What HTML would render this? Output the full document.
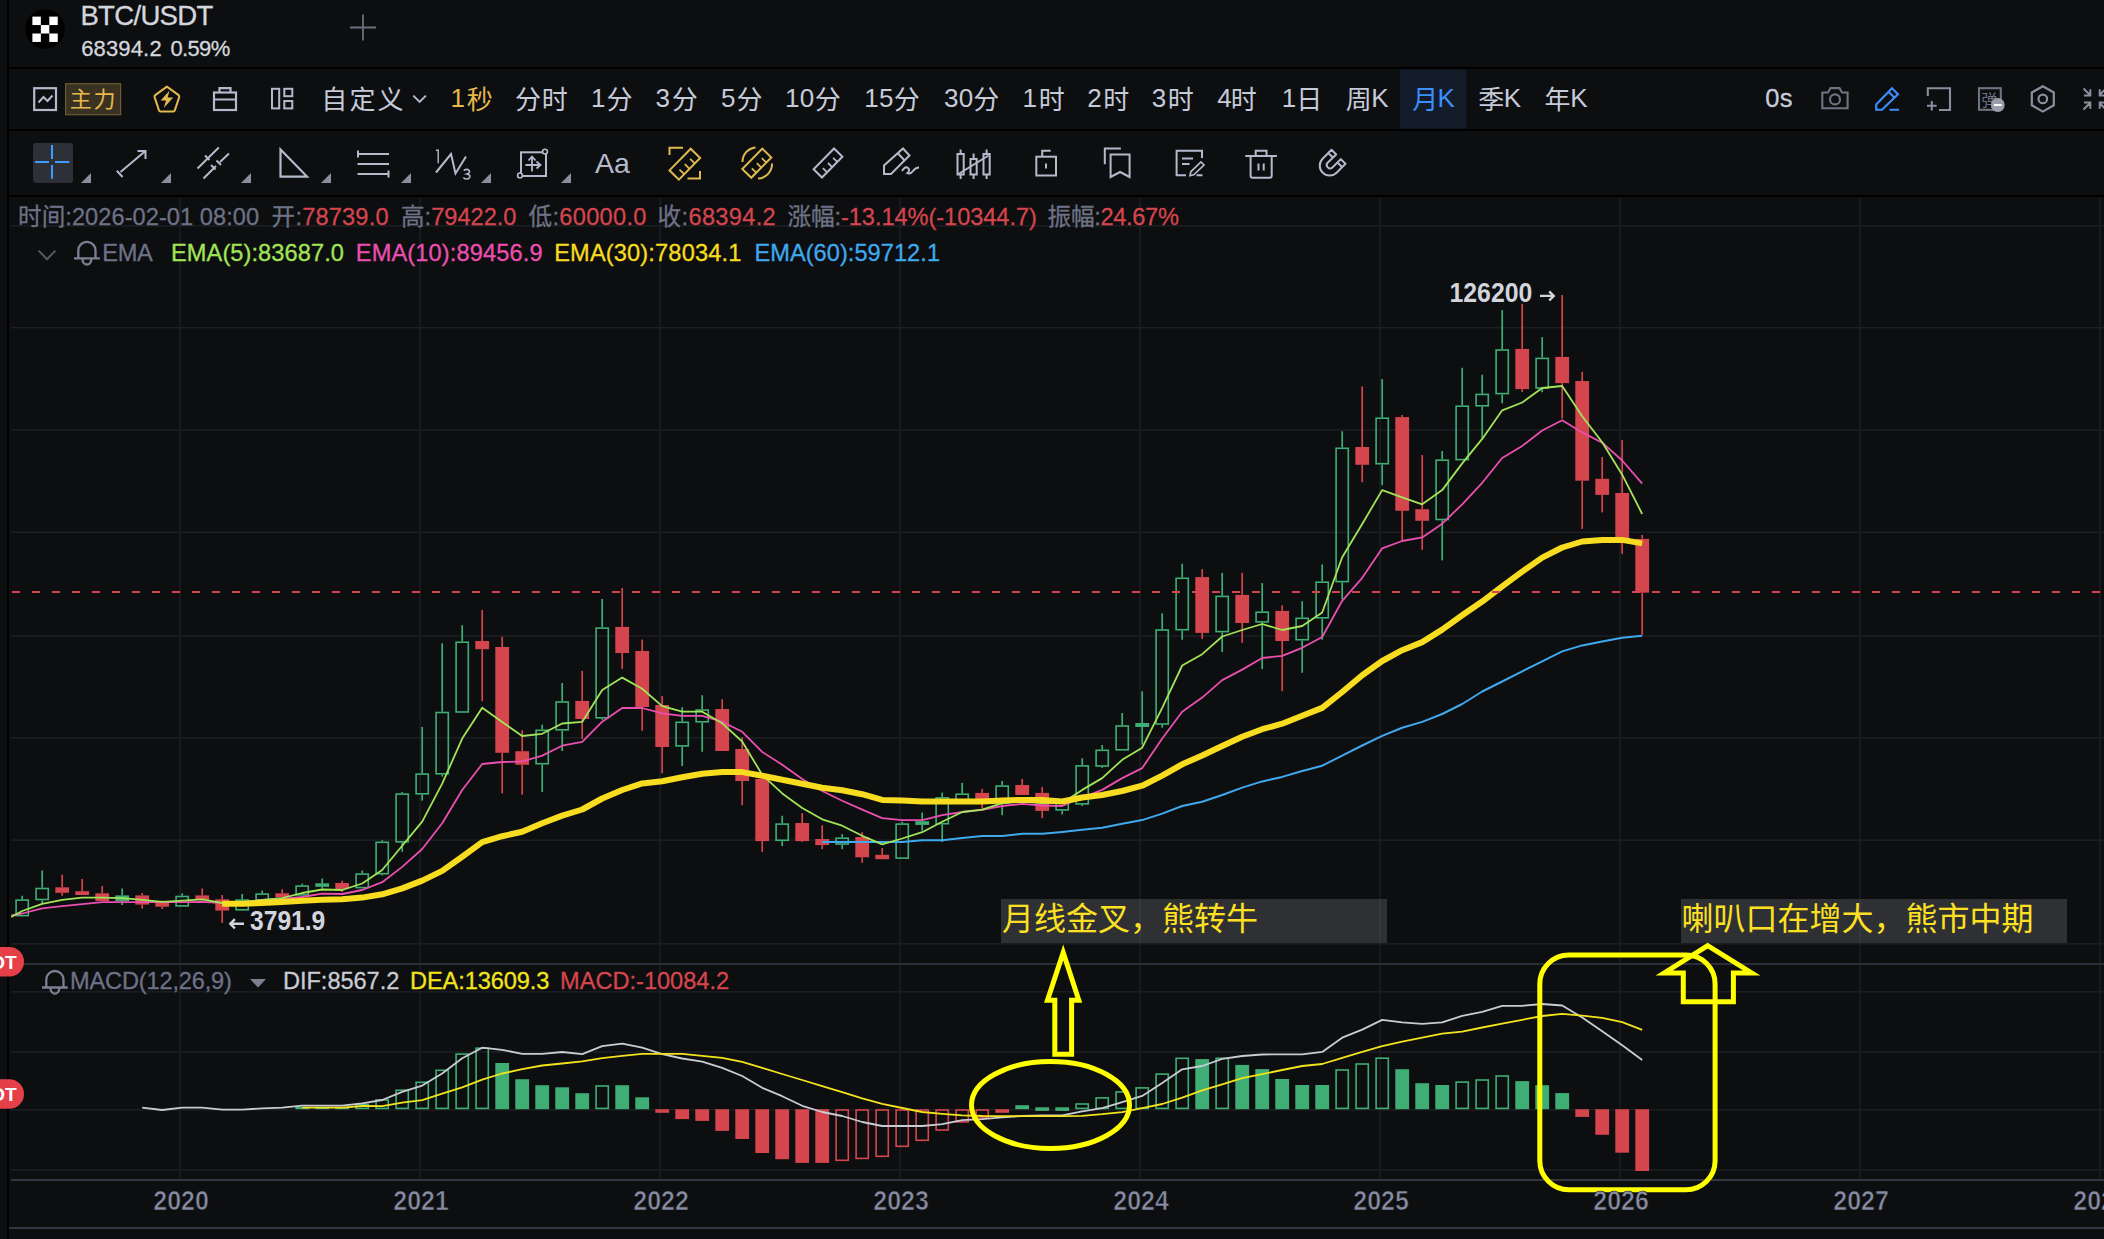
<!DOCTYPE html>
<html lang="zh-CN">
<head>
<meta charset="utf-8">
<title>BTC/USDT 月K</title>
<style>
html,body{margin:0;padding:0;background:#0d0e10;}
body{width:2104px;height:1239px;position:relative;overflow:hidden;font-family:"Liberation Sans","Noto Sans CJK SC",sans-serif;}
.t{position:absolute;white-space:nowrap;}
.d{position:relative;top:-2px;}
.bar{position:absolute;background:#000;}
svg{position:absolute;left:0;top:0;}
#icons{z-index:1}
.t{z-index:2}
#dan{z-index:0}
#edge{position:absolute;left:0;top:0;width:7px;height:1239px;background:#0d0e10;}
</style>
</head>
<body>
<div id="edge"></div>
<div class="bar" style="left:7px;top:0;width:2px;height:1239px"></div>
<div class="bar" style="left:9px;top:66.8px;width:2095px;height:2.5px"></div>
<div class="bar" style="left:9px;top:128.5px;width:2095px;height:2.5px"></div>
<div class="bar" style="left:9px;top:195px;width:2095px;height:2.1px"></div>
<svg id="chart" width="2104" height="1239" viewBox="0 0 2104 1239">
<rect x="179.4" y="198.5" width="1.5" height="981.5" fill="#1d1f24"/>
<rect x="419.4" y="198.5" width="1.5" height="981.5" fill="#1d1f24"/>
<rect x="659.4" y="198.5" width="1.5" height="981.5" fill="#1d1f24"/>
<rect x="899.4" y="198.5" width="1.5" height="981.5" fill="#1d1f24"/>
<rect x="1139.4" y="198.5" width="1.5" height="981.5" fill="#1d1f24"/>
<rect x="1379.4" y="198.5" width="1.5" height="981.5" fill="#1d1f24"/>
<rect x="1619.4" y="198.5" width="1.5" height="981.5" fill="#1d1f24"/>
<rect x="1859.4" y="198.5" width="1.5" height="981.5" fill="#1d1f24"/>
<rect x="2099.4" y="198.5" width="1.5" height="981.5" fill="#1d1f24"/>
<rect x="11" y="225.05" width="2093" height="1.5" fill="#1d1f24"/>
<rect x="11" y="326.85" width="2093" height="1.5" fill="#1d1f24"/>
<rect x="11" y="429.25" width="2093" height="1.5" fill="#1d1f24"/>
<rect x="11" y="531.55" width="2093" height="1.5" fill="#1d1f24"/>
<rect x="11" y="635.25" width="2093" height="1.5" fill="#1d1f24"/>
<rect x="11" y="737.05" width="2093" height="1.5" fill="#1d1f24"/>
<rect x="11" y="839.35" width="2093" height="1.5" fill="#1d1f24"/>
<rect x="11" y="943.05" width="2093" height="1.5" fill="#1d1f24"/>
<rect x="11" y="991.05" width="2093" height="1.5" fill="#1d1f24"/>
<rect x="11" y="1051.25" width="2093" height="1.5" fill="#1d1f24"/>
<rect x="11" y="1109.05" width="2093" height="1.5" fill="#1d1f24"/>
<rect x="11" y="1169.15" width="2093" height="1.5" fill="#1d1f24"/>
<rect x="11" y="963" width="2093" height="2" fill="#2b2e36"/>
<rect x="11" y="1179" width="2093" height="2" fill="#33363f"/>
<rect x="9" y="1227" width="2095" height="2" fill="#33363f"/>
<rect x="1001" y="899" width="386" height="44" fill="#8a8d99" fill-opacity="0.27"/>
<rect x="1681" y="899" width="386" height="44" fill="#8a8d99" fill-opacity="0.27"/>
<rect x="21.35" y="895.7" width="1.7" height="3.6" fill="#3fae74"/>
<rect x="16.10" y="900.1" width="12.20" height="15.5" fill="none" stroke="#3fae74" stroke-width="1.6"/>
<rect x="41.35" y="870.4" width="1.7" height="17.3" fill="#3fae74"/>
<rect x="41.35" y="900.3" width="1.7" height="2.7" fill="#3fae74"/>
<rect x="36.10" y="888.5" width="12.20" height="11.0" fill="none" stroke="#3fae74" stroke-width="1.6"/>
<rect x="61.35" y="874.7" width="1.7" height="12.6" fill="#d5454d"/>
<rect x="61.35" y="892.8" width="1.7" height="2.9" fill="#d5454d"/>
<rect x="55.30" y="887.3" width="13.80" height="5.5" fill="#d5454d"/>
<rect x="81.35" y="879.0" width="1.7" height="12.2" fill="#d5454d"/>
<rect x="75.30" y="891.2" width="13.80" height="3.8" fill="#d5454d"/>
<rect x="101.35" y="886.0" width="1.7" height="7.3" fill="#d5454d"/>
<rect x="95.30" y="893.3" width="13.80" height="7.7" fill="#d5454d"/>
<rect x="121.35" y="888.5" width="1.7" height="6.9" fill="#3fae74"/>
<rect x="121.35" y="901.0" width="1.7" height="4.0" fill="#3fae74"/>
<rect x="115.30" y="895.4" width="13.80" height="5.6" fill="#3fae74"/>
<rect x="141.35" y="893.0" width="1.7" height="2.4" fill="#d5454d"/>
<rect x="141.35" y="904.6" width="1.7" height="4.1" fill="#d5454d"/>
<rect x="135.30" y="895.4" width="13.80" height="9.2" fill="#d5454d"/>
<rect x="161.35" y="900.6" width="1.7" height="0.8" fill="#d5454d"/>
<rect x="161.35" y="906.7" width="1.7" height="2.3" fill="#d5454d"/>
<rect x="155.30" y="901.4" width="13.80" height="5.3" fill="#d5454d"/>
<rect x="181.35" y="893.3" width="1.7" height="2.4" fill="#3fae74"/>
<rect x="176.10" y="896.5" width="12.20" height="9.4" fill="none" stroke="#3fae74" stroke-width="1.6"/>
<rect x="201.35" y="888.5" width="1.7" height="6.9" fill="#d5454d"/>
<rect x="201.35" y="899.8" width="1.7" height="0.7" fill="#d5454d"/>
<rect x="195.30" y="895.4" width="13.80" height="4.4" fill="#d5454d"/>
<rect x="221.35" y="895.0" width="1.7" height="4.3" fill="#d5454d"/>
<rect x="221.35" y="910.6" width="1.7" height="12.3" fill="#d5454d"/>
<rect x="215.30" y="899.3" width="13.80" height="11.3" fill="#d5454d"/>
<rect x="241.35" y="894.0" width="1.7" height="5.3" fill="#3fae74"/>
<rect x="236.10" y="900.1" width="12.20" height="9.7" fill="none" stroke="#3fae74" stroke-width="1.6"/>
<rect x="261.35" y="890.6" width="1.7" height="2.7" fill="#3fae74"/>
<rect x="256.10" y="894.1" width="12.20" height="5.7" fill="none" stroke="#3fae74" stroke-width="1.6"/>
<rect x="281.35" y="889.3" width="1.7" height="4.0" fill="#d5454d"/>
<rect x="275.30" y="893.3" width="13.80" height="4.1" fill="#d5454d"/>
<rect x="301.35" y="883.6" width="1.7" height="1.7" fill="#3fae74"/>
<rect x="296.10" y="886.1" width="12.20" height="8.8" fill="none" stroke="#3fae74" stroke-width="1.6"/>
<rect x="321.35" y="878.6" width="1.7" height="4.7" fill="#3fae74"/>
<rect x="321.35" y="886.8" width="1.7" height="1.8" fill="#3fae74"/>
<rect x="315.30" y="883.3" width="13.80" height="3.5" fill="#3fae74"/>
<rect x="341.35" y="880.6" width="1.7" height="2.4" fill="#d5454d"/>
<rect x="341.35" y="889.0" width="1.7" height="3.0" fill="#d5454d"/>
<rect x="335.30" y="883.0" width="13.80" height="6.0" fill="#d5454d"/>
<rect x="361.35" y="870.6" width="1.7" height="2.7" fill="#3fae74"/>
<rect x="356.10" y="874.1" width="12.20" height="13.5" fill="none" stroke="#3fae74" stroke-width="1.6"/>
<rect x="381.35" y="840.2" width="1.7" height="1.3" fill="#3fae74"/>
<rect x="381.35" y="874.5" width="1.7" height="1.0" fill="#3fae74"/>
<rect x="376.10" y="842.3" width="12.20" height="31.4" fill="none" stroke="#3fae74" stroke-width="1.6"/>
<rect x="401.35" y="792.0" width="1.7" height="1.3" fill="#3fae74"/>
<rect x="401.35" y="842.6" width="1.7" height="9.2" fill="#3fae74"/>
<rect x="396.10" y="794.1" width="12.20" height="47.7" fill="none" stroke="#3fae74" stroke-width="1.6"/>
<rect x="421.35" y="727.0" width="1.7" height="46.3" fill="#3fae74"/>
<rect x="421.35" y="794.6" width="1.7" height="6.0" fill="#3fae74"/>
<rect x="416.10" y="774.1" width="12.20" height="19.7" fill="none" stroke="#3fae74" stroke-width="1.6"/>
<rect x="441.35" y="643.3" width="1.7" height="68.4" fill="#3fae74"/>
<rect x="441.35" y="774.6" width="1.7" height="2.0" fill="#3fae74"/>
<rect x="436.10" y="712.5" width="12.20" height="61.3" fill="none" stroke="#3fae74" stroke-width="1.6"/>
<rect x="461.35" y="625.2" width="1.7" height="16.2" fill="#3fae74"/>
<rect x="456.10" y="642.2" width="12.20" height="69.8" fill="none" stroke="#3fae74" stroke-width="1.6"/>
<rect x="481.35" y="610.0" width="1.7" height="31.0" fill="#d5454d"/>
<rect x="481.35" y="649.2" width="1.7" height="52.0" fill="#d5454d"/>
<rect x="475.30" y="641.0" width="13.80" height="8.2" fill="#d5454d"/>
<rect x="501.35" y="636.6" width="1.7" height="10.4" fill="#d5454d"/>
<rect x="501.35" y="752.8" width="1.7" height="40.5" fill="#d5454d"/>
<rect x="495.30" y="647.0" width="13.80" height="105.8" fill="#d5454d"/>
<rect x="521.35" y="730.3" width="1.7" height="20.9" fill="#d5454d"/>
<rect x="521.35" y="764.8" width="1.7" height="29.8" fill="#d5454d"/>
<rect x="515.30" y="751.2" width="13.80" height="13.6" fill="#d5454d"/>
<rect x="541.35" y="724.6" width="1.7" height="4.9" fill="#3fae74"/>
<rect x="541.35" y="764.5" width="1.7" height="27.5" fill="#3fae74"/>
<rect x="536.10" y="730.3" width="12.20" height="33.4" fill="none" stroke="#3fae74" stroke-width="1.6"/>
<rect x="561.35" y="683.0" width="1.7" height="18.2" fill="#3fae74"/>
<rect x="561.35" y="730.6" width="1.7" height="20.4" fill="#3fae74"/>
<rect x="556.10" y="702.0" width="12.20" height="27.8" fill="none" stroke="#3fae74" stroke-width="1.6"/>
<rect x="581.35" y="670.8" width="1.7" height="30.1" fill="#d5454d"/>
<rect x="581.35" y="719.0" width="1.7" height="20.0" fill="#d5454d"/>
<rect x="575.30" y="700.9" width="13.80" height="18.1" fill="#d5454d"/>
<rect x="601.35" y="599.0" width="1.7" height="28.3" fill="#3fae74"/>
<rect x="601.35" y="718.6" width="1.7" height="1.2" fill="#3fae74"/>
<rect x="596.10" y="628.1" width="12.20" height="89.7" fill="none" stroke="#3fae74" stroke-width="1.6"/>
<rect x="621.35" y="588.0" width="1.7" height="38.9" fill="#d5454d"/>
<rect x="621.35" y="653.0" width="1.7" height="15.9" fill="#d5454d"/>
<rect x="615.30" y="626.9" width="13.80" height="26.1" fill="#d5454d"/>
<rect x="641.35" y="639.5" width="1.7" height="11.5" fill="#d5454d"/>
<rect x="641.35" y="707.0" width="1.7" height="23.8" fill="#d5454d"/>
<rect x="635.30" y="651.0" width="13.80" height="56.0" fill="#d5454d"/>
<rect x="661.35" y="696.0" width="1.7" height="9.0" fill="#d5454d"/>
<rect x="661.35" y="747.0" width="1.7" height="26.2" fill="#d5454d"/>
<rect x="655.30" y="705.0" width="13.80" height="42.0" fill="#d5454d"/>
<rect x="681.35" y="707.2" width="1.7" height="14.3" fill="#3fae74"/>
<rect x="681.35" y="746.7" width="1.7" height="19.3" fill="#3fae74"/>
<rect x="676.10" y="722.3" width="12.20" height="23.6" fill="none" stroke="#3fae74" stroke-width="1.6"/>
<rect x="701.35" y="695.2" width="1.7" height="14.1" fill="#3fae74"/>
<rect x="701.35" y="722.6" width="1.7" height="29.2" fill="#3fae74"/>
<rect x="696.10" y="710.1" width="12.20" height="11.7" fill="none" stroke="#3fae74" stroke-width="1.6"/>
<rect x="721.35" y="699.3" width="1.7" height="9.7" fill="#d5454d"/>
<rect x="715.30" y="709.0" width="13.80" height="42.0" fill="#d5454d"/>
<rect x="741.35" y="737.2" width="1.7" height="11.8" fill="#d5454d"/>
<rect x="741.35" y="781.0" width="1.7" height="24.2" fill="#d5454d"/>
<rect x="735.30" y="749.0" width="13.80" height="32.0" fill="#d5454d"/>
<rect x="761.35" y="841.1" width="1.7" height="10.8" fill="#d5454d"/>
<rect x="755.30" y="778.9" width="13.80" height="62.2" fill="#d5454d"/>
<rect x="781.35" y="815.7" width="1.7" height="7.6" fill="#3fae74"/>
<rect x="781.35" y="841.1" width="1.7" height="4.9" fill="#3fae74"/>
<rect x="776.10" y="824.1" width="12.20" height="16.2" fill="none" stroke="#3fae74" stroke-width="1.6"/>
<rect x="801.35" y="813.1" width="1.7" height="9.9" fill="#d5454d"/>
<rect x="801.35" y="841.1" width="1.7" height="0.8" fill="#d5454d"/>
<rect x="795.30" y="823.0" width="13.80" height="18.1" fill="#d5454d"/>
<rect x="821.35" y="825.3" width="1.7" height="13.7" fill="#d5454d"/>
<rect x="821.35" y="845.1" width="1.7" height="4.1" fill="#d5454d"/>
<rect x="815.30" y="839.0" width="13.80" height="6.1" fill="#d5454d"/>
<rect x="841.35" y="834.1" width="1.7" height="3.3" fill="#3fae74"/>
<rect x="841.35" y="844.8" width="1.7" height="4.4" fill="#3fae74"/>
<rect x="836.10" y="838.2" width="12.20" height="5.8" fill="none" stroke="#3fae74" stroke-width="1.6"/>
<rect x="861.35" y="832.2" width="1.7" height="4.8" fill="#d5454d"/>
<rect x="861.35" y="857.3" width="1.7" height="5.6" fill="#d5454d"/>
<rect x="855.30" y="837.0" width="13.80" height="20.3" fill="#d5454d"/>
<rect x="881.35" y="848.0" width="1.7" height="6.8" fill="#d5454d"/>
<rect x="875.30" y="854.8" width="13.80" height="4.4" fill="#d5454d"/>
<rect x="901.35" y="821.7" width="1.7" height="1.6" fill="#3fae74"/>
<rect x="896.10" y="824.1" width="12.20" height="34.0" fill="none" stroke="#3fae74" stroke-width="1.6"/>
<rect x="921.35" y="812.5" width="1.7" height="8.7" fill="#3fae74"/>
<rect x="921.35" y="824.9" width="1.7" height="5.7" fill="#3fae74"/>
<rect x="915.30" y="821.2" width="13.80" height="3.7" fill="#3fae74"/>
<rect x="941.35" y="792.6" width="1.7" height="4.5" fill="#3fae74"/>
<rect x="941.35" y="824.5" width="1.7" height="17.4" fill="#3fae74"/>
<rect x="936.10" y="797.9" width="12.20" height="25.8" fill="none" stroke="#3fae74" stroke-width="1.6"/>
<rect x="961.35" y="782.9" width="1.7" height="10.5" fill="#3fae74"/>
<rect x="956.10" y="794.2" width="12.20" height="6.5" fill="none" stroke="#3fae74" stroke-width="1.6"/>
<rect x="981.35" y="788.9" width="1.7" height="4.0" fill="#d5454d"/>
<rect x="981.35" y="803.9" width="1.7" height="4.9" fill="#d5454d"/>
<rect x="975.30" y="792.9" width="13.80" height="11.0" fill="#d5454d"/>
<rect x="1001.35" y="781.0" width="1.7" height="4.3" fill="#3fae74"/>
<rect x="1001.35" y="803.9" width="1.7" height="11.3" fill="#3fae74"/>
<rect x="996.10" y="786.1" width="12.20" height="17.0" fill="none" stroke="#3fae74" stroke-width="1.6"/>
<rect x="1021.35" y="778.9" width="1.7" height="6.1" fill="#d5454d"/>
<rect x="1015.30" y="785.0" width="13.80" height="10.0" fill="#d5454d"/>
<rect x="1041.35" y="787.0" width="1.7" height="5.9" fill="#d5454d"/>
<rect x="1041.35" y="810.9" width="1.7" height="7.3" fill="#d5454d"/>
<rect x="1035.30" y="792.9" width="13.80" height="18.0" fill="#d5454d"/>
<rect x="1061.35" y="810.7" width="1.7" height="3.7" fill="#3fae74"/>
<rect x="1056.10" y="802.3" width="12.20" height="7.6" fill="none" stroke="#3fae74" stroke-width="1.6"/>
<rect x="1081.35" y="758.2" width="1.7" height="6.9" fill="#3fae74"/>
<rect x="1081.35" y="804.7" width="1.7" height="1.3" fill="#3fae74"/>
<rect x="1076.10" y="765.9" width="12.20" height="38.0" fill="none" stroke="#3fae74" stroke-width="1.6"/>
<rect x="1101.35" y="745.0" width="1.7" height="4.5" fill="#3fae74"/>
<rect x="1101.35" y="766.8" width="1.7" height="1.1" fill="#3fae74"/>
<rect x="1096.10" y="750.3" width="12.20" height="15.7" fill="none" stroke="#3fae74" stroke-width="1.6"/>
<rect x="1121.35" y="713.0" width="1.7" height="12.2" fill="#3fae74"/>
<rect x="1116.10" y="726.0" width="12.20" height="23.8" fill="none" stroke="#3fae74" stroke-width="1.6"/>
<rect x="1141.35" y="691.2" width="1.7" height="31.8" fill="#3fae74"/>
<rect x="1141.35" y="727.0" width="1.7" height="17.7" fill="#3fae74"/>
<rect x="1135.30" y="723.0" width="13.80" height="4.0" fill="#3fae74"/>
<rect x="1161.35" y="613.3" width="1.7" height="15.9" fill="#3fae74"/>
<rect x="1161.35" y="724.8" width="1.7" height="2.9" fill="#3fae74"/>
<rect x="1156.10" y="630.0" width="12.20" height="94.0" fill="none" stroke="#3fae74" stroke-width="1.6"/>
<rect x="1181.35" y="563.7" width="1.7" height="13.8" fill="#3fae74"/>
<rect x="1181.35" y="630.5" width="1.7" height="9.2" fill="#3fae74"/>
<rect x="1176.10" y="578.3" width="12.20" height="51.4" fill="none" stroke="#3fae74" stroke-width="1.6"/>
<rect x="1201.35" y="569.1" width="1.7" height="8.0" fill="#d5454d"/>
<rect x="1201.35" y="632.9" width="1.7" height="6.0" fill="#d5454d"/>
<rect x="1195.30" y="577.1" width="13.80" height="55.8" fill="#d5454d"/>
<rect x="1221.35" y="572.9" width="1.7" height="22.7" fill="#3fae74"/>
<rect x="1221.35" y="632.4" width="1.7" height="19.7" fill="#3fae74"/>
<rect x="1216.10" y="596.4" width="12.20" height="35.2" fill="none" stroke="#3fae74" stroke-width="1.6"/>
<rect x="1241.35" y="572.9" width="1.7" height="22.0" fill="#d5454d"/>
<rect x="1241.35" y="623.0" width="1.7" height="19.9" fill="#d5454d"/>
<rect x="1235.30" y="594.9" width="13.80" height="28.1" fill="#d5454d"/>
<rect x="1261.35" y="583.1" width="1.7" height="28.3" fill="#3fae74"/>
<rect x="1261.35" y="622.7" width="1.7" height="46.4" fill="#3fae74"/>
<rect x="1256.10" y="612.2" width="12.20" height="9.7" fill="none" stroke="#3fae74" stroke-width="1.6"/>
<rect x="1281.35" y="605.3" width="1.7" height="5.6" fill="#d5454d"/>
<rect x="1281.35" y="641.0" width="1.7" height="50.1" fill="#d5454d"/>
<rect x="1275.30" y="610.9" width="13.80" height="30.1" fill="#d5454d"/>
<rect x="1301.35" y="601.2" width="1.7" height="16.3" fill="#3fae74"/>
<rect x="1301.35" y="640.5" width="1.7" height="32.3" fill="#3fae74"/>
<rect x="1296.10" y="618.3" width="12.20" height="21.4" fill="none" stroke="#3fae74" stroke-width="1.6"/>
<rect x="1321.35" y="564.4" width="1.7" height="17.0" fill="#3fae74"/>
<rect x="1321.35" y="618.6" width="1.7" height="21.1" fill="#3fae74"/>
<rect x="1316.10" y="582.2" width="12.20" height="35.6" fill="none" stroke="#3fae74" stroke-width="1.6"/>
<rect x="1341.35" y="431.3" width="1.7" height="16.2" fill="#3fae74"/>
<rect x="1341.35" y="582.4" width="1.7" height="17.0" fill="#3fae74"/>
<rect x="1336.10" y="448.3" width="12.20" height="133.3" fill="none" stroke="#3fae74" stroke-width="1.6"/>
<rect x="1361.35" y="386.4" width="1.7" height="60.6" fill="#d5454d"/>
<rect x="1361.35" y="464.8" width="1.7" height="17.5" fill="#d5454d"/>
<rect x="1355.30" y="447.0" width="13.80" height="17.8" fill="#d5454d"/>
<rect x="1381.35" y="379.1" width="1.7" height="38.3" fill="#3fae74"/>
<rect x="1381.35" y="464.5" width="1.7" height="20.7" fill="#3fae74"/>
<rect x="1376.10" y="418.2" width="12.20" height="45.5" fill="none" stroke="#3fae74" stroke-width="1.6"/>
<rect x="1401.35" y="415.0" width="1.7" height="2.1" fill="#d5454d"/>
<rect x="1401.35" y="510.8" width="1.7" height="30.2" fill="#d5454d"/>
<rect x="1395.30" y="417.1" width="13.80" height="93.7" fill="#d5454d"/>
<rect x="1421.35" y="455.0" width="1.7" height="54.2" fill="#d5454d"/>
<rect x="1421.35" y="520.8" width="1.7" height="29.1" fill="#d5454d"/>
<rect x="1415.30" y="509.2" width="13.80" height="11.6" fill="#d5454d"/>
<rect x="1441.35" y="451.0" width="1.7" height="8.4" fill="#3fae74"/>
<rect x="1441.35" y="520.3" width="1.7" height="40.1" fill="#3fae74"/>
<rect x="1436.10" y="460.2" width="12.20" height="59.3" fill="none" stroke="#3fae74" stroke-width="1.6"/>
<rect x="1461.35" y="367.8" width="1.7" height="37.6" fill="#3fae74"/>
<rect x="1456.10" y="406.2" width="12.20" height="53.4" fill="none" stroke="#3fae74" stroke-width="1.6"/>
<rect x="1481.35" y="374.7" width="1.7" height="18.9" fill="#3fae74"/>
<rect x="1481.35" y="406.6" width="1.7" height="31.5" fill="#3fae74"/>
<rect x="1476.10" y="394.4" width="12.20" height="11.4" fill="none" stroke="#3fae74" stroke-width="1.6"/>
<rect x="1501.35" y="310.1" width="1.7" height="39.1" fill="#3fae74"/>
<rect x="1501.35" y="394.4" width="1.7" height="8.9" fill="#3fae74"/>
<rect x="1496.10" y="350.0" width="12.20" height="43.6" fill="none" stroke="#3fae74" stroke-width="1.6"/>
<rect x="1521.35" y="303.9" width="1.7" height="45.0" fill="#d5454d"/>
<rect x="1521.35" y="389.1" width="1.7" height="2.9" fill="#d5454d"/>
<rect x="1515.30" y="348.9" width="13.80" height="40.2" fill="#d5454d"/>
<rect x="1541.35" y="337.1" width="1.7" height="20.5" fill="#3fae74"/>
<rect x="1541.35" y="388.8" width="1.7" height="3.5" fill="#3fae74"/>
<rect x="1536.10" y="358.4" width="12.20" height="29.6" fill="none" stroke="#3fae74" stroke-width="1.6"/>
<rect x="1561.35" y="295.0" width="1.7" height="61.9" fill="#d5454d"/>
<rect x="1561.35" y="383.1" width="1.7" height="35.6" fill="#d5454d"/>
<rect x="1555.30" y="356.9" width="13.80" height="26.2" fill="#d5454d"/>
<rect x="1581.35" y="371.8" width="1.7" height="9.2" fill="#d5454d"/>
<rect x="1581.35" y="480.7" width="1.7" height="48.2" fill="#d5454d"/>
<rect x="1575.30" y="381.0" width="13.80" height="99.7" fill="#d5454d"/>
<rect x="1601.35" y="457.0" width="1.7" height="21.8" fill="#d5454d"/>
<rect x="1601.35" y="494.9" width="1.7" height="17.5" fill="#d5454d"/>
<rect x="1595.30" y="478.8" width="13.80" height="16.1" fill="#d5454d"/>
<rect x="1621.35" y="440.0" width="1.7" height="53.0" fill="#d5454d"/>
<rect x="1621.35" y="538.9" width="1.7" height="15.0" fill="#d5454d"/>
<rect x="1615.30" y="493.0" width="13.80" height="45.9" fill="#d5454d"/>
<rect x="1641.35" y="535.0" width="1.7" height="3.9" fill="#d5454d"/>
<rect x="1641.35" y="592.7" width="1.7" height="42.0" fill="#d5454d"/>
<rect x="1635.30" y="538.9" width="13.80" height="53.8" fill="#d5454d"/>
<polyline points="822.2,841.9 842.2,841.9 862.2,841.9 882.2,841.9 902.2,841.9 922.2,840.3 942.2,840.3 962.2,837.9 982.2,835.9 1002.2,835.9 1022.2,833.8 1042.2,833.8 1062.2,831.9 1082.2,829.8 1102.2,827.8 1122.2,823.8 1142.2,820.1 1162.2,813.6 1182.2,806.0 1202.2,801.8 1222.2,795.0 1242.2,787.6 1262.2,781.4 1282.2,776.9 1302.2,771.0 1322.2,765.7 1342.2,755.7 1362.2,745.5 1382.2,735.9 1402.2,727.8 1422.2,721.9 1442.2,714.0 1462.2,704.0 1482.2,691.5 1502.2,681.5 1522.2,671.3 1542.2,661.3 1562.2,651.4 1582.2,645.4 1602.2,641.4 1622.2,637.7 1642.2,635.8" fill="none" stroke="#3fa9ee" stroke-width="2" stroke-linejoin="round" stroke-linecap="butt" />
<polyline points="11.2,915.5 22.2,913.5 42.2,908.4 62.2,906.2 82.2,904.1 102.2,902.2 122.2,902.2 142.2,902.2 162.2,902.2 182.2,902.2 202.2,901.9 222.2,903.0 242.2,902.2 262.2,899.8 282.2,899.0 302.2,897.0 322.2,893.6 342.2,894.0 362.2,890.0 382.2,882.2 402.2,866.9 422.2,849.0 442.2,823.2 462.2,790.0 482.2,764.0 502.2,762.0 522.2,761.5 542.2,755.6 562.2,745.7 582.2,741.8 602.2,721.7 622.2,708.0 642.2,708.0 662.2,713.4 682.2,715.9 702.2,715.9 722.2,721.7 742.2,731.8 762.2,751.9 782.2,764.7 802.2,778.9 822.2,791.0 842.2,800.7 862.2,809.6 882.2,818.2 902.2,820.1 922.2,820.1 942.2,815.2 962.2,812.0 982.2,809.9 1002.2,806.0 1022.2,803.9 1042.2,805.5 1062.2,806.0 1082.2,797.5 1102.2,789.9 1122.2,778.1 1142.2,768.1 1162.2,738.5 1182.2,711.7 1202.2,697.6 1222.2,680.1 1242.2,669.6 1262.2,658.0 1282.2,655.9 1302.2,647.8 1322.2,637.0 1342.2,600.8 1362.2,577.8 1382.2,548.3 1402.2,541.0 1422.2,537.4 1442.2,523.7 1462.2,504.3 1482.2,482.8 1502.2,458.0 1522.2,445.9 1542.2,430.5 1562.2,420.3 1582.2,432.4 1602.2,442.7 1622.2,460.5 1642.2,483.6" fill="none" stroke="#ea4fb0" stroke-width="1.8" stroke-linejoin="round" stroke-linecap="butt" />
<polyline points="11.2,917.0 22.2,911.0 42.2,903.8 62.2,899.8 82.2,897.7 102.2,897.7 122.2,898.2 142.2,899.8 162.2,901.9 182.2,900.6 202.2,899.3 222.2,903.0 242.2,902.5 262.2,899.8 282.2,898.2 302.2,893.0 322.2,889.5 342.2,890.0 362.2,883.5 382.2,870.0 402.2,845.8 422.2,821.6 442.2,783.6 462.2,738.6 482.2,707.7 502.2,722.0 522.2,736.0 542.2,733.8 562.2,723.5 582.2,721.9 602.2,690.0 622.2,677.6 642.2,688.8 662.2,706.1 682.2,711.7 702.2,711.7 722.2,723.3 742.2,741.5 762.2,774.8 782.2,793.4 802.2,808.0 822.2,819.3 842.2,825.7 862.2,835.8 882.2,844.3 902.2,838.5 922.2,832.2 942.2,821.7 962.2,812.0 982.2,809.6 1002.2,803.1 1022.2,801.5 1042.2,803.0 1062.2,803.1 1082.2,789.9 1102.2,778.1 1122.2,759.8 1142.2,747.7 1162.2,707.9 1182.2,665.5 1202.2,654.2 1222.2,636.5 1242.2,630.0 1262.2,624.0 1282.2,630.0 1302.2,626.0 1322.2,612.5 1342.2,557.2 1362.2,524.0 1382.2,490.1 1402.2,497.4 1422.2,504.3 1442.2,490.1 1462.2,463.4 1482.2,438.9 1502.2,410.3 1522.2,402.5 1542.2,388.0 1562.2,386.0 1582.2,416.2 1602.2,442.2 1622.2,474.7 1642.2,514.0" fill="none" stroke="#a2e457" stroke-width="1.8" stroke-linejoin="round" stroke-linecap="butt" />
<polyline points="222.2,903.8 242.2,903.8 262.2,903.0 282.2,901.9 302.2,900.7 322.2,899.7 342.2,899.2 362.2,897.6 382.2,894.3 402.2,888.4 422.2,880.6 442.2,870.9 462.2,856.7 482.2,842.1 502.2,836.2 522.2,831.8 542.2,823.2 562.2,815.6 582.2,809.5 602.2,798.5 622.2,790.0 642.2,783.4 662.2,781.3 682.2,777.3 702.2,773.7 722.2,772.1 742.2,772.1 762.2,775.7 782.2,779.7 802.2,783.7 822.2,787.8 842.2,790.2 862.2,794.2 882.2,799.9 902.2,800.4 922.2,801.6 942.2,801.5 962.2,801.5 982.2,801.5 1002.2,800.4 1022.2,799.9 1042.2,799.9 1062.2,801.5 1082.2,797.5 1102.2,795.0 1122.2,791.0 1142.2,785.7 1162.2,775.6 1182.2,764.3 1202.2,755.5 1222.2,746.0 1242.2,736.7 1262.2,729.2 1282.2,723.7 1302.2,715.7 1322.2,707.9 1342.2,692.0 1362.2,675.2 1382.2,661.0 1402.2,650.2 1422.2,642.1 1442.2,629.6 1462.2,615.3 1482.2,601.6 1502.2,586.3 1522.2,571.7 1542.2,557.6 1562.2,547.5 1582.2,541.5 1602.2,539.9 1622.2,539.9 1642.2,543.4" fill="none" stroke="#f7dc1f" stroke-width="6" stroke-linejoin="round" stroke-linecap="butt" />
<line x1="12" y1="592" x2="2104" y2="592" stroke="#d5454d" stroke-width="2" stroke-dasharray="8 12"/>
<rect x="295.30" y="1107.0" width="13.80" height="2.2" fill="#3fae74"/>
<rect x="315.30" y="1107.2" width="13.80" height="2.0" fill="#3fae74"/>
<rect x="335.30" y="1107.2" width="13.80" height="2.0" fill="#3fae74"/>
<rect x="356.10" y="1104.5" width="12.20" height="3.9" fill="none" stroke="#3fae74" stroke-width="1.6"/>
<rect x="376.10" y="1100.0" width="12.20" height="8.4" fill="none" stroke="#3fae74" stroke-width="1.6"/>
<rect x="396.10" y="1090.2" width="12.20" height="18.2" fill="none" stroke="#3fae74" stroke-width="1.6"/>
<rect x="416.10" y="1082.3" width="12.20" height="26.1" fill="none" stroke="#3fae74" stroke-width="1.6"/>
<rect x="436.10" y="1070.3" width="12.20" height="38.1" fill="none" stroke="#3fae74" stroke-width="1.6"/>
<rect x="456.10" y="1054.1" width="12.20" height="54.3" fill="none" stroke="#3fae74" stroke-width="1.6"/>
<rect x="476.10" y="1048.2" width="12.20" height="60.2" fill="none" stroke="#3fae74" stroke-width="1.6"/>
<rect x="495.30" y="1063.0" width="13.80" height="46.2" fill="#3fae74"/>
<rect x="515.30" y="1079.2" width="13.80" height="30.0" fill="#3fae74"/>
<rect x="535.30" y="1085.2" width="13.80" height="24.0" fill="#3fae74"/>
<rect x="555.30" y="1087.3" width="13.80" height="21.9" fill="#3fae74"/>
<rect x="575.30" y="1093.2" width="13.80" height="16.0" fill="#3fae74"/>
<rect x="596.10" y="1086.0" width="12.20" height="22.4" fill="none" stroke="#3fae74" stroke-width="1.6"/>
<rect x="615.30" y="1085.2" width="13.80" height="24.0" fill="#3fae74"/>
<rect x="635.30" y="1097.3" width="13.80" height="11.9" fill="#3fae74"/>
<rect x="655.30" y="1109.2" width="13.80" height="3.6" fill="#d5454d"/>
<rect x="675.30" y="1109.2" width="13.80" height="9.9" fill="#d5454d"/>
<rect x="695.30" y="1109.2" width="13.80" height="11.7" fill="#d5454d"/>
<rect x="715.30" y="1109.2" width="13.80" height="21.7" fill="#d5454d"/>
<rect x="735.30" y="1109.2" width="13.80" height="29.8" fill="#d5454d"/>
<rect x="755.30" y="1109.2" width="13.80" height="43.8" fill="#d5454d"/>
<rect x="775.30" y="1109.2" width="13.80" height="50.0" fill="#d5454d"/>
<rect x="795.30" y="1109.2" width="13.80" height="53.7" fill="#d5454d"/>
<rect x="815.30" y="1109.2" width="13.80" height="53.7" fill="#d5454d"/>
<rect x="836.10" y="1110.0" width="12.20" height="50.3" fill="none" stroke="#d5454d" stroke-width="1.6"/>
<rect x="856.10" y="1110.0" width="12.20" height="48.4" fill="none" stroke="#d5454d" stroke-width="1.6"/>
<rect x="876.10" y="1110.0" width="12.20" height="46.3" fill="none" stroke="#d5454d" stroke-width="1.6"/>
<rect x="896.10" y="1110.0" width="12.20" height="36.3" fill="none" stroke="#d5454d" stroke-width="1.6"/>
<rect x="916.10" y="1110.0" width="12.20" height="30.3" fill="none" stroke="#d5454d" stroke-width="1.6"/>
<rect x="936.10" y="1110.0" width="12.20" height="20.0" fill="none" stroke="#d5454d" stroke-width="1.6"/>
<rect x="956.10" y="1110.0" width="12.20" height="11.9" fill="none" stroke="#d5454d" stroke-width="1.6"/>
<rect x="976.10" y="1110.0" width="12.20" height="7.9" fill="none" stroke="#d5454d" stroke-width="1.6"/>
<rect x="995.30" y="1109.2" width="13.80" height="3.6" fill="#d5454d"/>
<rect x="1015.30" y="1105.2" width="13.80" height="4.0" fill="#3fae74"/>
<rect x="1035.30" y="1107.3" width="13.80" height="3.6" fill="#3fae74"/>
<rect x="1055.30" y="1107.3" width="13.80" height="3.6" fill="#3fae74"/>
<rect x="1076.10" y="1104.0" width="12.20" height="4.4" fill="none" stroke="#3fae74" stroke-width="1.6"/>
<rect x="1096.10" y="1097.9" width="12.20" height="10.5" fill="none" stroke="#3fae74" stroke-width="1.6"/>
<rect x="1116.10" y="1091.9" width="12.20" height="16.5" fill="none" stroke="#3fae74" stroke-width="1.6"/>
<rect x="1136.10" y="1087.9" width="12.20" height="20.5" fill="none" stroke="#3fae74" stroke-width="1.6"/>
<rect x="1156.10" y="1074.1" width="12.20" height="34.3" fill="none" stroke="#3fae74" stroke-width="1.6"/>
<rect x="1176.10" y="1058.3" width="12.20" height="50.1" fill="none" stroke="#3fae74" stroke-width="1.6"/>
<rect x="1195.30" y="1059.1" width="13.80" height="50.1" fill="#3fae74"/>
<rect x="1216.10" y="1058.3" width="12.20" height="50.1" fill="none" stroke="#3fae74" stroke-width="1.6"/>
<rect x="1235.30" y="1064.9" width="13.80" height="44.3" fill="#3fae74"/>
<rect x="1255.30" y="1069.1" width="13.80" height="40.1" fill="#3fae74"/>
<rect x="1275.30" y="1079.0" width="13.80" height="30.2" fill="#3fae74"/>
<rect x="1295.30" y="1085.0" width="13.80" height="24.2" fill="#3fae74"/>
<rect x="1315.30" y="1085.0" width="13.80" height="24.2" fill="#3fae74"/>
<rect x="1336.10" y="1070.0" width="12.20" height="38.4" fill="none" stroke="#3fae74" stroke-width="1.6"/>
<rect x="1356.10" y="1064.0" width="12.20" height="44.4" fill="none" stroke="#3fae74" stroke-width="1.6"/>
<rect x="1376.10" y="1058.2" width="12.20" height="50.2" fill="none" stroke="#3fae74" stroke-width="1.6"/>
<rect x="1395.30" y="1069.2" width="13.80" height="40.0" fill="#3fae74"/>
<rect x="1415.30" y="1083.2" width="13.80" height="26.0" fill="#3fae74"/>
<rect x="1435.30" y="1085.0" width="13.80" height="24.2" fill="#3fae74"/>
<rect x="1456.10" y="1082.1" width="12.20" height="26.3" fill="none" stroke="#3fae74" stroke-width="1.6"/>
<rect x="1476.10" y="1080.0" width="12.20" height="28.4" fill="none" stroke="#3fae74" stroke-width="1.6"/>
<rect x="1496.10" y="1076.0" width="12.20" height="32.4" fill="none" stroke="#3fae74" stroke-width="1.6"/>
<rect x="1515.30" y="1081.1" width="13.80" height="28.1" fill="#3fae74"/>
<rect x="1535.30" y="1085.2" width="13.80" height="24.0" fill="#3fae74"/>
<rect x="1555.30" y="1093.1" width="13.80" height="16.1" fill="#3fae74"/>
<rect x="1575.30" y="1109.2" width="13.80" height="7.7" fill="#d5454d"/>
<rect x="1595.30" y="1109.2" width="13.80" height="25.6" fill="#d5454d"/>
<rect x="1615.30" y="1109.2" width="13.80" height="43.5" fill="#d5454d"/>
<rect x="1635.30" y="1109.2" width="13.80" height="61.8" fill="#d5454d"/>
<polyline points="142.2,1107.7 162.2,1110.0 182.2,1107.7 202.2,1107.7 222.2,1109.7 242.2,1109.7 262.2,1108.3 282.2,1107.7 302.2,1105.7 322.2,1105.7 342.2,1105.7 362.2,1103.3 382.2,1100.0 402.2,1091.8 422.2,1085.6 442.2,1073.5 462.2,1058.2 482.2,1047.7 502.2,1049.8 522.2,1053.8 542.2,1053.8 562.2,1052.0 582.2,1054.1 602.2,1046.1 622.2,1043.6 642.2,1047.7 662.2,1054.1 682.2,1058.5 702.2,1061.6 722.2,1067.9 742.2,1076.0 762.2,1087.8 782.2,1096.2 802.2,1105.8 822.2,1112.0 842.2,1116.0 862.2,1122.0 882.2,1126.0 902.2,1126.0 922.2,1126.0 942.2,1124.1 962.2,1120.1 982.2,1119.1 1002.2,1117.3 1022.2,1116.0 1042.2,1115.3 1062.2,1115.3 1082.2,1111.3 1102.2,1108.1 1122.2,1102.1 1142.2,1095.9 1162.2,1083.0 1182.2,1069.3 1202.2,1066.0 1222.2,1058.8 1242.2,1056.0 1262.2,1054.5 1282.2,1054.3 1302.2,1054.3 1322.2,1051.9 1342.2,1037.7 1362.2,1029.6 1382.2,1019.9 1402.2,1022.3 1422.2,1023.9 1442.2,1022.3 1462.2,1015.9 1482.2,1011.8 1502.2,1005.8 1522.2,1005.8 1542.2,1004.0 1562.2,1005.5 1582.2,1017.5 1602.2,1031.2 1622.2,1045.3 1642.2,1060.0" fill="none" stroke="#c9ccd3" stroke-width="1.8" stroke-linejoin="round" stroke-linecap="butt" />
<polyline points="302.2,1107.7 322.2,1107.7 342.2,1107.7 362.2,1106.0 382.2,1106.2 402.2,1102.6 422.2,1100.2 442.2,1093.7 462.2,1087.3 482.2,1079.7 502.2,1073.5 522.2,1069.2 542.2,1065.5 562.2,1063.5 582.2,1061.4 602.2,1058.2 622.2,1055.8 642.2,1053.8 662.2,1053.8 682.2,1053.8 702.2,1055.8 722.2,1057.9 742.2,1061.9 762.2,1067.9 782.2,1074.0 802.2,1080.0 822.2,1086.1 842.2,1092.1 862.2,1098.3 882.2,1103.9 902.2,1108.0 922.2,1112.0 942.2,1113.9 962.2,1115.4 982.2,1116.0 1002.2,1116.1 1022.2,1116.1 1042.2,1116.1 1062.2,1116.1 1082.2,1115.8 1102.2,1114.2 1122.2,1112.1 1142.2,1108.1 1162.2,1104.0 1182.2,1097.6 1202.2,1090.3 1222.2,1084.3 1242.2,1078.2 1262.2,1074.1 1282.2,1070.0 1302.2,1066.0 1322.2,1064.0 1342.2,1057.9 1362.2,1051.9 1382.2,1046.1 1402.2,1041.7 1422.2,1037.7 1442.2,1033.6 1462.2,1031.7 1482.2,1027.5 1502.2,1023.6 1522.2,1019.8 1542.2,1016.0 1562.2,1013.8 1582.2,1015.7 1602.2,1017.9 1622.2,1022.1 1642.2,1029.8" fill="none" stroke="#f2e31d" stroke-width="1.8" stroke-linejoin="round" stroke-linecap="butt" />
<ellipse cx="1050.5" cy="1105" rx="79" ry="43.5" fill="none" stroke="#ffff00" stroke-width="5"/>
<polygon points="1063.2,952.5 1047.5,1000.2 1054.8,1000.2 1054.8,1054.2 1071.6,1054.2 1071.6,1000.2 1078.8,1000.2" fill="none" stroke="#ffff00" stroke-width="5" stroke-linejoin="miter" stroke-miterlimit="10"/>
<rect x="1539.8" y="955.1" width="175.3" height="234.6" rx="29" ry="29" fill="none" stroke="#ffff00" stroke-width="5"/>
<polygon points="1707.7,945.6 1664.2,973 1683.3,973 1683.3,1001.8 1733.4,1001.8 1733.4,973 1751.7,973" fill="none" stroke="#ffff00" stroke-width="5" stroke-linejoin="miter" stroke-miterlimit="10"/>
<text x="153.35" y="1209.8" font-family="Liberation Sans, Noto Sans CJK SC, sans-serif" font-size="27" font-weight="bold" fill="#868ca3" text-anchor="start" textLength="55.5" lengthAdjust="spacingAndGlyphs" stroke="#0d0e10" stroke-width="0.7" paint-order="fill stroke">2020</text>
<text x="393.35" y="1209.8" font-family="Liberation Sans, Noto Sans CJK SC, sans-serif" font-size="27" font-weight="bold" fill="#868ca3" text-anchor="start" textLength="55.5" lengthAdjust="spacingAndGlyphs" stroke="#0d0e10" stroke-width="0.7" paint-order="fill stroke">2021</text>
<text x="633.35" y="1209.8" font-family="Liberation Sans, Noto Sans CJK SC, sans-serif" font-size="27" font-weight="bold" fill="#868ca3" text-anchor="start" textLength="55.5" lengthAdjust="spacingAndGlyphs" stroke="#0d0e10" stroke-width="0.7" paint-order="fill stroke">2022</text>
<text x="873.35" y="1209.8" font-family="Liberation Sans, Noto Sans CJK SC, sans-serif" font-size="27" font-weight="bold" fill="#868ca3" text-anchor="start" textLength="55.5" lengthAdjust="spacingAndGlyphs" stroke="#0d0e10" stroke-width="0.7" paint-order="fill stroke">2023</text>
<text x="1113.35" y="1209.8" font-family="Liberation Sans, Noto Sans CJK SC, sans-serif" font-size="27" font-weight="bold" fill="#868ca3" text-anchor="start" textLength="55.5" lengthAdjust="spacingAndGlyphs" stroke="#0d0e10" stroke-width="0.7" paint-order="fill stroke">2024</text>
<text x="1353.35" y="1209.8" font-family="Liberation Sans, Noto Sans CJK SC, sans-serif" font-size="27" font-weight="bold" fill="#868ca3" text-anchor="start" textLength="55.5" lengthAdjust="spacingAndGlyphs" stroke="#0d0e10" stroke-width="0.7" paint-order="fill stroke">2025</text>
<text x="1593.35" y="1209.8" font-family="Liberation Sans, Noto Sans CJK SC, sans-serif" font-size="27" font-weight="bold" fill="#868ca3" text-anchor="start" textLength="55.5" lengthAdjust="spacingAndGlyphs" stroke="#0d0e10" stroke-width="0.7" paint-order="fill stroke">2026</text>
<text x="1833.35" y="1209.8" font-family="Liberation Sans, Noto Sans CJK SC, sans-serif" font-size="27" font-weight="bold" fill="#868ca3" text-anchor="start" textLength="55.5" lengthAdjust="spacingAndGlyphs" stroke="#0d0e10" stroke-width="0.7" paint-order="fill stroke">2027</text>
<text x="2073.35" y="1209.8" font-family="Liberation Sans, Noto Sans CJK SC, sans-serif" font-size="27" font-weight="bold" fill="#868ca3" text-anchor="start" textLength="55.5" lengthAdjust="spacingAndGlyphs" stroke="#0d0e10" stroke-width="0.7" paint-order="fill stroke">2028</text>
<text x="1449.5" y="302.2" font-family="Liberation Sans, Noto Sans CJK SC, sans-serif" font-size="27.5" font-weight="bold" fill="#d2d5db" text-anchor="start" textLength="82.8" lengthAdjust="spacingAndGlyphs">126200</text>
<text x="250" y="930.1" font-family="Liberation Sans, Noto Sans CJK SC, sans-serif" font-size="27.5" font-weight="bold" fill="#d2d5db" text-anchor="start" textLength="75.3" lengthAdjust="spacingAndGlyphs">3791.9</text>
<path d="M1540 295.9H1553.6M1549.2 291.3l4.6 4.6-4.6 4.6" fill="none" stroke="#d2d5db" stroke-width="2.4"/>
<path d="M244 923.8H230.5M234.9 919.2l-4.6 4.6 4.6 4.6" fill="none" stroke="#d2d5db" stroke-width="2.4"/>
<text x="1002" y="929.6" font-family="Liberation Sans, Noto Sans CJK SC, sans-serif" font-size="32" font-weight="normal" fill="#fde021" text-anchor="start" >月线金叉，熊转牛</text>
<text x="1681.5" y="929.6" font-family="Liberation Sans, Noto Sans CJK SC, sans-serif" font-size="32" font-weight="normal" fill="#fde021" text-anchor="start" >喇叭口在增大，熊市中期</text>
</svg>
<svg id="icons" width="2104" height="1239" viewBox="0 0 2104 1239">
<circle cx="45.1" cy="29" r="19.8" fill="#000"/>
<rect x="32.40" y="16.60" width="8.45" height="8.45" fill="#fff"/>
<rect x="49.30" y="16.60" width="8.45" height="8.45" fill="#fff"/>
<rect x="40.85" y="25.05" width="8.45" height="8.45" fill="#fff"/>
<rect x="32.40" y="33.50" width="8.45" height="8.45" fill="#fff"/>
<rect x="49.30" y="33.50" width="8.45" height="8.45" fill="#fff"/>
<g fill="none" stroke="#6b6f7b" stroke-width="1.8" ><path d="M350 27.5H376M363 14.5V40.5"/></g>
<g fill="none" stroke="#b4bacb" stroke-width="2.2" ><rect x="34.2" y="88.2" width="21.8" height="21.8"/><path d="M38.5 102.5l5-5.5 4 4 5-5.5" stroke-width="2"/></g>
<rect x="65.6" y="83.7" width="55" height="31" fill="#3a3220" stroke="#6b5a34" stroke-width="1.2"/>
<g fill="none" stroke="#e0b94f" stroke-width="2" ><path d="M166.9 86.6 L178.6 95.1 Q179.6 95.9 179.2 97.1 L174.8 110.4 Q174.4 111.4 173.3 111.4 L160.5 111.4 Q159.4 111.4 159 110.4 L154.6 97.1 Q154.2 95.9 155.2 95.1 Z" stroke-linejoin="round"/></g>
<path d="M169.6 90.6 L160.6 100.6 H166 L163.8 108 L173.2 97.4 H167.6 Z" fill="#e0b94f"/>
<g fill="none" stroke="#b4bacb" stroke-width="2.2" ><rect x="214" y="92.5" width="22" height="17.5"/><path d="M219.5 92.5V88.2H230.5V92.5M214 99.5H236"/></g>
<g fill="none" stroke="#b4bacb" stroke-width="2" ><rect x="272" y="88.8" width="7.2" height="19.6"/><rect x="284.3" y="88.8" width="8" height="7.4"/><rect x="284.3" y="101" width="8" height="7.4"/></g>
<g fill="none" stroke="#b4bacb" stroke-width="2" ><path d="M413.3 95.6l6.3 6.3 6.3-6.3"/></g>
<rect x="1400" y="69.5" width="66.5" height="59" fill="#131c29"/>
<g fill="none" stroke="#6f7483" stroke-width="2.1" ><path d="M1822.3 92.5H1828l2.5-4.4h9l2.5 4.4h5.6V108.3H1822.3Z"/><circle cx="1835" cy="99.4" r="5"/></g>
<g fill="none" stroke="#3b8fff" stroke-width="2.1" ><path d="M1876.2 109.8V104.5L1892 88.2l6 6L1882 109.8ZM1888.5 91.8l6 6M1889.5 109.8H1899"/></g>
<g fill="none" stroke="#8a8f9e" stroke-width="2.1" ><path d="M1927.8 96V88.2H1950V110H1939M1927 105.8h9.6M1931.8 101v9.6"/></g>
<g fill="none" stroke="#6f7483" stroke-width="2.1" ><rect x="1979" y="88.2" width="21.8" height="21.6"/></g>
<circle cx="1997.8" cy="105" r="6.9" fill="#9a9eab"/><rect x="1994" y="104" width="7.6" height="2" fill="#fff"/>
<g fill="none" stroke="#8a8f9e" stroke-width="2.2" ><path d="M2042.8 86.2l11 6.3v12.8l-11 6.3-11-6.3V92.5Z"/><circle cx="2042.8" cy="98.9" r="4.3"/></g>
<g fill="none" stroke="#8a8f9e" stroke-width="2" ><path d="M2083.5 88.5l6.5 6.5M2084 95.5h6.3V89.2M2083.5 109.5l6.5-6.5M2084 102.5h6.3V108.8M2106 88.5l-6.5 6.5M2106 95.5h-6.3V89.2M2106 109.5l-6.5-6.5M2106 102.5h-6.3V108.8"/></g>
<rect x="33" y="143" width="40" height="40" rx="3" fill="#2e3038"/>
<g fill="none" stroke="#3b9bff" stroke-width="2" ><path d="M35 162H49M55 162H69.3M52 145V159M52 165V178.8"/></g>
<path d="M81 183h10v-10z" fill="#8a8e9c"/>
<path d="M161 183h10v-10z" fill="#8a8e9c"/>
<path d="M241 183h10v-10z" fill="#8a8e9c"/>
<path d="M321 183h10v-10z" fill="#8a8e9c"/>
<path d="M401 183h10v-10z" fill="#8a8e9c"/>
<path d="M481 183h10v-10z" fill="#8a8e9c"/>
<path d="M561 183h10v-10z" fill="#8a8e9c"/>
<g fill="none" stroke="#b4bacb" stroke-width="2" ><path d="M120.5 172L144.5 151.8M137.5 151h8v8M116.8 170.8l5.8 6.2"/></g>
<g fill="none" stroke="#b4bacb" stroke-width="2" ><path d="M197.5 168.5L218.8 147.5M203.5 178.5L216 166M220 162L229 153.5M205 155.5l4.5 4.5M211 165l4.5 4.5M216.5 160.5l4.5 4.5"/></g>
<g fill="none" stroke="#b4bacb" stroke-width="2.2" ><path d="M280.5 149.5V176.6H307Z"/></g>
<g fill="none" stroke="#b4bacb" stroke-width="2" ><path d="M357.5 154H389M357.5 164H389M357.5 174H389M358 150.5V157.5M388.5 170.5V177.5"/></g>
<g fill="none" stroke="#b4bacb" stroke-width="2" ><path d="M436 172.5L451 154L455.5 173.5L466 156.5"/><path d="M436 150.3h2.2v13" stroke-width="1.4"/><path d="M463.7 170.6q3-2.4 5.6 0q1.3 2-2.6 3.4q4.2 .8 3 3.5q-2.6 3-6.4 .2" stroke-width="1.5"/></g>
<g fill="none" stroke="#b4bacb" stroke-width="2" ><rect x="521" y="152.3" width="25" height="23.7"/><path d="M525.5 165h15M536.5 161.5l4 3.5-4 3.5M532 157v14.5M528.5 160.5l3.5-4 3.5 4" stroke-width="1.8"/></g>
<circle cx="545" cy="151.6" r="2.4" fill="#0d0e10" stroke="#b4bacb" stroke-width="1.6"/><circle cx="520" cy="175.4" r="2.4" fill="#0d0e10" stroke="#b4bacb" stroke-width="1.6"/>
<g transform="translate(684.8 164.2) rotate(-45.5)" fill="none" stroke="#e0b94f" stroke-width="2"><rect x="-15.15" y="-6.60" width="30.3" height="13.2"/><path d="M-7.58 6.60v-6.60M0.00 6.60v-6.60M7.58 6.60v-6.60" stroke-width="1.8"/></g>
<g fill="none" stroke="#e0b94f" stroke-width="2" ><path d="M669.5 155V147.8H683M687.5 178.6H700V171"/></g>
<g transform="translate(756.8 163.2) rotate(-45.5)" fill="none" stroke="#e0b94f" stroke-width="2"><rect x="-14.25" y="-6.30" width="28.5" height="12.6"/><path d="M-7.12 6.30v-6.30M0.00 6.30v-6.30M7.12 6.30v-6.30" stroke-width="1.8"/></g>
<g fill="none" stroke="#e0b94f" stroke-width="2" ><path d="M742.5 162a14.5 14.5 0 0 1 13-14.6M772 163.5a14.5 14.5 0 0 1-14 15"/></g>
<g transform="translate(828 163) rotate(-45.5)" fill="none" stroke="#b4bacb" stroke-width="2"><rect x="-14.55" y="-5.90" width="29.1" height="11.8"/><path d="M-7.28 5.90v-5.90M0.00 5.90v-5.90M7.28 5.90v-5.90" stroke-width="1.8"/></g>
<g fill="none" stroke="#b4bacb" stroke-width="2" ><path d="M884 174V165.5L903 148.5l6.5 7L891 174ZM897.8 153.2l6.6 7M902 171q3.5-5.5 6-3t-.5 5q3 1.5 5.5-2t6-3.5"/></g>
<g fill="none" stroke="#b4bacb" stroke-width="2" ><rect x="957.5" y="154" width="6.2" height="20.5"/><rect x="970.5" y="159" width="6.2" height="15.5"/><rect x="983.5" y="154" width="6.2" height="20.5"/><path d="M960.6 149.5V154M960.6 174.5V179M973.6 153.5V159M973.6 174.5V179M986.6 149.5V154M986.6 174.5V179M958.5 174L988.5 155.5"/></g>
<g fill="none" stroke="#b4bacb" stroke-width="2" ><rect x="1036.3" y="156.7" width="19.7" height="18.8"/><path d="M1042.2 156.7V150.7H1050.7M1046 163.4V168.5"/></g>
<g fill="none" stroke="#b4bacb" stroke-width="2" ><path d="M1110.6 154.6H1129.6V177L1120.1 172L1110.6 177ZM1104.8 164.2V148.6H1120.9"/></g>
<g fill="none" stroke="#b4bacb" stroke-width="2" ><path d="M1202 158V150.7H1176.6V175.2H1186M1182 158.5H1193M1182 164H1189.5M1196.5 175.2H1202.5"/><path d="M1190 175.6L1190.8 171.8L1201 162L1204 165L1193.8 174.8Z" stroke-width="1.7"/></g>
<g fill="none" stroke="#b4bacb" stroke-width="2" ><path d="M1245.3 156H1276.9M1255.7 156V150.7H1266.5V156M1250.6 156V175.8Q1250.6 177.8 1252.6 177.8H1269.7Q1271.7 177.8 1271.7 175.8V156M1258.5 163.5V170.5M1263.7 163.5V170.5"/></g>
<g fill="none" stroke="#b4bacb" stroke-width="2" ><path d="M1331.5 149.8L1322.6 158.7A9.9 9.9 0 0 0 1336.6 172.7L1345.5 163.8L1340.8 159.1L1332.4 167.5A3.4 3.4 0 0 1 1327.6 162.7L1336.2 154.5ZM1328.3 153L1333 157.7M1337.5 162.5L1342.2 167.2" stroke-linejoin="round"/></g>
<g fill="none" stroke="#565962" stroke-width="2" ><path d="M38.6 250.6l8.4 8.6 8.4-8.6"/></g>
<g fill="none" stroke="#7b8092" stroke-width="2.3" transform="translate(74 240.9)"><path d="M0 17.5H25.8M4.3 17.5V9.6a8.6 8.6 0 0 1 17.2 0V17.5M8.5 18.3a4.4 5.3 0 0 0 8.8 0"/></g>
<g fill="none" stroke="#7b8092" stroke-width="2.3" transform="translate(42 970)"><path d="M0 17.5H25.8M4.3 17.5V9.6a8.6 8.6 0 0 1 17.2 0V17.5M8.5 18.3a4.4 5.3 0 0 0 8.8 0"/></g>
<path d="M250 979h16l-8 8.5z" fill="#7b8092"/>
<rect x="-20" y="947.0" width="44" height="29.6" rx="14.8" fill="#e5404a"/>
<rect x="-20" y="1079.2" width="44" height="29.6" rx="14.8" fill="#e5404a"/>
</svg>
<div class="t" id="sym" style="left:80.40px;top:1.94px;font-size:27.6px;line-height:27.6px;color:#d3d6dd;letter-spacing:-0.714px;-webkit-text-stroke:0.3px">BTC/USDT</div>
<div class="t" id="px" style="left:81.20px;top:38.48px;font-size:22px;line-height:22px;color:#d3d6dd;letter-spacing:0.150px;-webkit-text-stroke:0.3px">68394.2</div>
<div class="t" id="pct" style="left:170.40px;top:38.48px;font-size:22px;line-height:22px;color:#d3d6dd;letter-spacing:-0.625px;-webkit-text-stroke:0.3px">0.59%</div>
<div class="t" id="zl" style="left:69.70px;top:88.58px;font-size:22px;line-height:22px;color:#e6b84d;letter-spacing:1.800px">主力</div>
<div class="t" id="t0" style="left:321.20px;top:87.29px;font-size:26px;line-height:26px;color:#c6cbd9;letter-spacing:2.200px">自定义</div>
<div class="t" id="t1" style="left:450.40px;top:87.29px;font-size:26px;line-height:26px;color:#e6b84d;letter-spacing:2.000px"><span class="d">1</span>秒</div>
<div class="t" id="t2" style="left:515.00px;top:87.29px;font-size:26px;line-height:26px;color:#c6cbd9;letter-spacing:0.700px">分时</div>
<div class="t" id="t3" style="left:591.00px;top:87.29px;font-size:26px;line-height:26px;color:#c6cbd9;letter-spacing:1.000px"><span class="d">1</span>分</div>
<div class="t" id="t4" style="left:655.60px;top:87.29px;font-size:26px;line-height:26px;color:#c6cbd9;letter-spacing:1.600px"><span class="d">3</span>分</div>
<div class="t" id="t5" style="left:721.00px;top:87.29px;font-size:26px;line-height:26px;color:#c6cbd9;letter-spacing:1.100px"><span class="d">5</span>分</div>
<div class="t" id="t6" style="left:785.00px;top:87.29px;font-size:26px;line-height:26px;color:#c6cbd9;letter-spacing:0.350px"><span class="d">10</span>分</div>
<div class="t" id="t7" style="left:864.20px;top:87.29px;font-size:26px;line-height:26px;color:#c6cbd9;letter-spacing:0.350px"><span class="d">15</span>分</div>
<div class="t" id="t8" style="left:944.00px;top:87.29px;font-size:26px;line-height:26px;color:#c6cbd9;letter-spacing:0.200px"><span class="d">30</span>分</div>
<div class="t" id="t9" style="left:1022.60px;top:87.29px;font-size:26px;line-height:26px;color:#c6cbd9;letter-spacing:1.600px"><span class="d">1</span>时</div>
<div class="t" id="t10" style="left:1087.20px;top:87.29px;font-size:26px;line-height:26px;color:#c6cbd9;letter-spacing:1.500px"><span class="d">2</span>时</div>
<div class="t" id="t11" style="left:1151.80px;top:87.29px;font-size:26px;line-height:26px;color:#c6cbd9;letter-spacing:1.500px"><span class="d">3</span>时</div>
<div class="t" id="t12" style="left:1217.20px;top:87.29px;font-size:26px;line-height:26px;color:#c6cbd9;letter-spacing:-0.900px"><span class="d">4</span>时</div>
<div class="t" id="t13" style="left:1281.80px;top:87.29px;font-size:26px;line-height:26px;color:#c6cbd9"><span class="d">1</span>日</div>
<div class="t" id="t14" style="left:1345.80px;top:87.29px;font-size:26px;line-height:26px;color:#c6cbd9;letter-spacing:-0.500px">周<span class="d">K</span></div>
<div class="t" id="t15" style="left:1412.20px;top:87.29px;font-size:26px;line-height:26px;color:#3b8fff;letter-spacing:-0.700px">月<span class="d">K</span></div>
<div class="t" id="t16" style="left:1478.20px;top:87.29px;font-size:26px;line-height:26px;color:#c6cbd9;letter-spacing:-0.500px">季<span class="d">K</span></div>
<div class="t" id="t17" style="left:1544.60px;top:87.29px;font-size:26px;line-height:26px;color:#c6cbd9;letter-spacing:-0.400px">年<span class="d">K</span></div>
<div class="t" id="t18" style="left:1765.20px;top:85.81px;font-size:25.5px;line-height:25.5px;color:#c6cbd9;letter-spacing:0.300px;-webkit-text-stroke:0.3px">0s</div>
<div class="t" id="aa" style="left:595.00px;top:148.67px;font-size:28.5px;line-height:28.5px;color:#b4bacb">Aa</div>
<div class="t" id="dan" style="left:1981.50px;top:92.96px;font-size:16px;line-height:16px;color:#6f7483">弹</div>
<div class="t" id="i0" style="left:18.00px;top:205.92px;font-size:23.6px;line-height:23.6px;color:#6d7286;letter-spacing:0.061px;-webkit-text-stroke:0.3px">时间:2026-02-01 08:00</div>
<div class="t" id="i1" style="left:271.60px;top:205.92px;font-size:23.6px;line-height:23.6px;color:#6d7286;letter-spacing:0.188px;-webkit-text-stroke:0.3px">开:<span style="color:#d5454d">78739.0</span></div>
<div class="t" id="i2" style="left:401.00px;top:205.92px;font-size:23.6px;line-height:23.6px;color:#6d7286;-webkit-text-stroke:0.3px">高:<span style="color:#d5454d">79422.0</span></div>
<div class="t" id="i3" style="left:528.60px;top:205.92px;font-size:23.6px;line-height:23.6px;color:#6d7286;letter-spacing:0.288px;-webkit-text-stroke:0.3px">低:<span style="color:#d5454d">60000.0</span></div>
<div class="t" id="i4" style="left:657.60px;top:205.92px;font-size:23.6px;line-height:23.6px;color:#6d7286;letter-spacing:0.338px;-webkit-text-stroke:0.3px">收:<span style="color:#d5454d">68394.2</span></div>
<div class="t" id="i5" style="left:787.40px;top:205.92px;font-size:23.6px;line-height:23.6px;color:#6d7286;letter-spacing:-0.053px;-webkit-text-stroke:0.3px">涨幅:<span style="color:#d5454d">-13.14%(-10344.7)</span></div>
<div class="t" id="i6" style="left:1047.60px;top:205.92px;font-size:23.6px;line-height:23.6px;color:#6d7286;letter-spacing:-0.312px;-webkit-text-stroke:0.3px">振幅:<span style="color:#d5454d">24.67%</span></div>
<div class="t" id="e0" style="left:102.20px;top:241.72px;font-size:23.6px;line-height:23.6px;color:#6d7286;letter-spacing:-0.250px;-webkit-text-stroke:0.3px">EMA</div>
<div class="t" id="e1" style="left:171.00px;top:241.72px;font-size:23.6px;line-height:23.6px;color:#a2e457;letter-spacing:0.085px;-webkit-text-stroke:0.3px">EMA(5):83687.0</div>
<div class="t" id="e2" style="left:355.80px;top:241.72px;font-size:23.6px;line-height:23.6px;color:#ea4fb0;letter-spacing:0.136px;-webkit-text-stroke:0.3px">EMA(10):89456.9</div>
<div class="t" id="e3" style="left:554.20px;top:241.72px;font-size:23.6px;line-height:23.6px;color:#f7dc1f;letter-spacing:0.157px;-webkit-text-stroke:0.3px">EMA(30):78034.1</div>
<div class="t" id="e4" style="left:754.40px;top:241.72px;font-size:23.6px;line-height:23.6px;color:#3fa9ee;letter-spacing:0.050px;-webkit-text-stroke:0.3px">EMA(60):59712.1</div>
<div class="t" id="m0" style="left:70.00px;top:969.92px;font-size:23.6px;line-height:23.6px;color:#6d7286;letter-spacing:-0.167px;-webkit-text-stroke:0.3px">MACD(12,26,9)</div>
<div class="t" id="m1" style="left:283.00px;top:969.92px;font-size:23.6px;line-height:23.6px;color:#c9ccd3;letter-spacing:-0.044px;-webkit-text-stroke:0.3px">DIF:8567.2</div>
<div class="t" id="m2" style="left:410.00px;top:969.92px;font-size:23.6px;line-height:23.6px;color:#f2e31d;letter-spacing:-0.100px;-webkit-text-stroke:0.3px">DEA:13609.3</div>
<div class="t" id="m3" style="left:560.00px;top:969.92px;font-size:23.6px;line-height:23.6px;color:#d5454d;-webkit-text-stroke:0.3px">MACD:-10084.2</div>
<div class="t" id="h1" style="left:-23.60px;top:952.92px;font-size:19px;line-height:19px;color:#fff;font-weight:bold">HOT</div>
<div class="t" id="h2" style="left:-23.60px;top:1084.92px;font-size:19px;line-height:19px;color:#fff;font-weight:bold">HOT</div>
</body>
</html>
